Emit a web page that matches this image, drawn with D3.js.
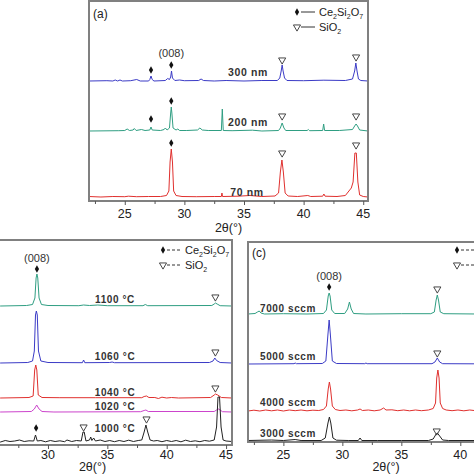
<!DOCTYPE html>
<html>
<head>
<meta charset="utf-8">
<script src="https://cdn.jsdelivr.net/npm/d3@7"></script>
<style>
  body { margin: 0; background: #fff; }
  svg { display: block; font-family: "Liberation Sans", Arial, sans-serif; }
</style>
</head>
<body>
<svg id="chart" width="474" height="474"></svg>
<script>
// ---- data: [2theta, intensity above own baseline] ----
// panel (a) film thickness
const aNames = ["300 nm", "200 nm", "70 nm"];
const aOffsets = [120, 70, 4];
const a300 = [[22,0],[23.5,0.3],[24,0],[24.2,1],[24.4,0],[24.6,1],[24.8,0],[25.5,0.3],[26,1.5],[26.3,0],[27,0],[27.1,1.5],[27.2,5],[27.3,1.5],[27.45,0],[28.4,0.5],[28.6,2.5],[28.75,1.5],[28.85,4],[28.92,10],[29,3],[29.2,0.5],[29.6,1],[30,0.3],[31.2,0.5],[31.4,2],[31.6,0.5],[32.5,0],[33.5,0.5],[35,0],[36.5,0.5],[37.8,0.5],[38,3],[38.12,10],[38.2,16],[38.28,10],[38.4,3],[38.6,0.5],[40,0.3],[41.7,0.8],[43.5,0.5],[44.1,2],[44.28,10],[44.38,18],[44.48,10],[44.6,2],[44.8,0.5],[45.4,0]];
const a200 = [[22,0],[24.5,0.3],[25,0.5],[25.2,2],[25.4,0.5],[25.7,1],[25.8,2.5],[25.95,0.5],[26.4,1.5],[26.7,0.5],[27.1,1],[27.2,4],[27.3,1],[28,0.5],[28.3,1.5],[28.4,3],[28.55,1],[28.75,3],[28.85,18],[28.9,24],[28.95,18],[29.05,3],[29.3,1],[29.45,2],[29.6,0.5],[30.2,0.5],[31.1,1],[31.3,3],[31.5,1],[32,0.5],[33.1,0.5],[33.18,22],[33.26,0.5],[34,0.3],[35.7,0.8],[36.5,0],[37.9,0.5],[38.05,3],[38.2,8],[38.35,3],[38.5,0.5],[40.3,0.5],[40.4,1.5],[40.5,0.3],[41.6,0.5],[41.68,7],[41.76,0.5],[43,0.5],[44.1,1.5],[44.28,5],[44.4,7],[44.52,5],[44.7,1],[45.4,0]];
const a70 = [[22,0.5],[23,0],[24,0.5],[25,0.3],[25.3,0.8],[26,0.3],[27,0.5],[28,0.5],[28.5,1.5],[28.7,6],[28.8,35],[28.9,48],[29,35],[29.1,6],[29.3,1.5],[29.8,0.5],[31,0.3],[32.5,0.5],[33.1,0.5],[33.15,4],[33.2,0.5],[34.5,0.8],[35.5,1.5],[36.5,0.5],[37.6,1],[37.9,4],[38.05,25],[38.18,37],[38.3,25],[38.45,4],[38.7,1],[39.5,0.5],[40.35,1.5],[40.6,0.5],[41.6,0.8],[41.7,3],[41.8,0.8],[42.8,0.5],[43.5,1.5],[43.8,6],[44,9],[44.15,15],[44.3,44],[44.42,44],[44.55,15],[44.7,2],[45,0.5],[45.4,0]];

// panel (b) annealing temperature
const bNames = ["1100 °C", "1060 °C", "1040 °C", "1020 °C", "1000 °C"];
const bOffsets = [139, 82, 47, 33, 3];
const b1100 = [[22,0],[26,0],[28.2,0.5],[28.7,1.5],[28.9,8],[29,28],[29.07,32],[29.14,28],[29.25,8],[29.45,1.5],[30,0.5],[32.6,0.3],[33,1],[33.5,0.5],[34.2,1],[35,0.3],[38,0.3],[38.2,1.5],[38.4,0.3],[43.8,0.5],[44,2],[44.1,3],[44.25,2],[44.5,0.3],[45.5,0]];
const b1060 = [[22,0],[26,0],[28.3,0.5],[28.7,2],[28.85,12],[28.95,48],[29.02,52],[29.1,48],[29.2,12],[29.4,2],[30,0.5],[32.9,0.3],[33,3],[33.1,0.3],[35.2,0.5],[35.4,1],[35.6,0.3],[43.6,0.5],[43.9,2],[44.05,5],[44.2,2.5],[44.5,0.5],[45.5,0]];
const b1040 = [[22,0],[26,0],[28.4,0.5],[28.75,2],[28.88,28],[28.97,33],[29.06,28],[29.18,3],[29.5,0.5],[31,0.3],[34,0.3],[37.9,0.3],[38.1,1.5],[38.3,2],[38.5,0.5],[39,0.5],[39.3,-0.5],[39.6,0.8],[40,0],[40.4,0.5],[41,0],[43.7,0.5],[44,3],[44.1,4],[44.3,3],[44.6,0.5],[45.5,0]];
const b1020 = [[22,0],[26,0],[28.6,0.5],[28.85,3],[29.05,7],[29.25,3],[29.5,0.5],[30.5,0],[37.8,0.3],[38.1,1.5],[38.25,2],[38.45,0.5],[44,0.5],[44.2,2],[44.35,3],[44.5,2],[44.7,0.3],[45.5,0]];
const b1000 = [[22,0],[22.4,1],[22.8,0],[23.2,1.5],[23.6,0.5],[24,1],[24.4,0],[24.8,1.5],[25.2,0.5],[25.6,1.2],[26,0],[26.4,1.5],[26.8,0.5],[27.2,1],[27.6,2],[28,0.5],[28.4,1.2],[28.8,1],[28.95,7],[29.1,1],[29.4,1.5],[29.8,0.2],[30.2,1.5],[30.6,0.5],[31,1.2],[31.4,0.3],[31.6,2],[32,0.5],[32.4,1.5],[32.8,1],[32.95,10],[33.05,10],[33.2,1],[33.5,2],[33.6,5],[33.7,1.5],[33.85,4],[34,1],[34.4,2],[34.8,0.5],[35.2,1.5],[35.6,0.3],[36,1.5],[36.4,0.5],[36.8,1.8],[37.2,0.5],[37.6,1.5],[37.9,2],[38.1,10],[38.25,17],[38.4,10],[38.6,2],[38.9,1],[39.2,1.5],[39.6,0.3],[40,1.5],[40.4,0.5],[40.8,1.5],[41.2,0.2],[41.6,1.8],[42,0.5],[42.4,1.2],[42.8,0.3],[43.2,1.5],[43.6,0.8],[44,2],[44.2,15],[44.32,45],[44.45,45],[44.58,15],[44.75,2],[45,1],[45.5,0.5]];

// panel (c) gas flow
const cNames = ["7000 sccm", "5000 sccm", "4000 sccm", "3000 sccm"];
const cOffsets = [128, 78, 31, 1];
const c7000 = [[22,0],[22.6,0.5],[22.8,2],[22.95,3],[23.1,1],[23.4,0],[25,0.3],[27,0],[28.4,0.5],[28.65,4],[28.8,18],[28.88,21],[28.96,18],[29.1,4],[29.35,0.5],[30.2,0.5],[30.45,5],[30.6,12],[30.75,5],[30.95,0.5],[32,0],[35,0.3],[37.5,0.3],[37.8,2],[37.95,14],[38.05,19],[38.15,14],[38.3,2],[38.6,0.3],[41.5,0],[45.4,0]];
const c5000 = [[22,0],[25.9,0.3],[26,1],[26.1,0.3],[28.3,0.5],[28.6,3],[28.78,30],[28.88,44],[28.98,30],[29.15,3],[29.5,0.5],[31.9,0.3],[32,1],[32.1,0.3],[37.6,0.3],[37.85,2],[38.05,6],[38.25,2],[38.5,0.3],[45.4,0]];
const c4000 = [[22,0],[22.5,0.8],[23,0],[23.5,1],[24,0.2],[24.5,1],[25,0],[25.5,1],[26,0.3],[26.5,1],[27,0.2],[27.5,0.8],[28,0.5],[28.4,1.5],[28.65,5],[28.8,22],[28.9,29],[29,22],[29.15,5],[29.4,1.5],[29.8,0.5],[30.3,1],[30.8,0.2],[31.3,1],[31.5,2],[31.7,0.5],[32.2,1],[32.7,0.2],[33.2,1],[33.5,3],[33.7,1],[34.2,1.2],[34.7,0.3],[35.2,1],[35.7,0.2],[36.2,1],[36.7,0.3],[37.3,1],[37.7,2.5],[37.9,8],[38,33],[38.1,41],[38.2,33],[38.3,8],[38.5,2.5],[38.8,1],[39.3,0.3],[39.8,1],[40.3,0.2],[40.8,1],[41.3,0.3],[45.4,0]];
const c3000 = [[22,0.5],[24,1],[25,0.5],[26,1.5],[26.5,0.5],[28.2,0.5],[28.55,3],[28.78,18],[28.9,24],[29.02,18],[29.2,3],[29.5,0.8],[30.5,0.5],[31.35,0.5],[31.5,3],[31.65,0.5],[33,0.5],[35,0.5],[37.3,0.5],[37.7,2],[37.95,7],[38.05,8],[38.25,5],[38.5,1],[39,0.5],[41.5,0.5],[45.4,0.5]];

// phase markers [2theta, absolute intensity]
const aDiamonds = [[27.2,131],[28.9,136],[27.2,82],[28.9,100],[28.9,58]];
const aTriangles = [[38.2,141],[44.4,144],[38.2,85],[44.4,85],[38.2,48],[44.4,56]];
const bDiamonds = [[29.07,176],[29.0,17]];
const bTriangles = [[44.1,148],[44.1,93],[44.1,57],[33.0,18],[38.3,26]];
const cDiamonds = [[28.88,155]];
const cTriangles = [[38.05,153],[38.05,89],[38.0,11]];
const peakLabel = "(008)";
const aPeak008 = [28.9, 148], bPeak008 = [29.07, 187], cPeak008 = [28.88, 166];

const majorTicks = [25, 30, 35, 40, 45];
const minorTicks = [22.5, 27.5, 32.5, 37.5, 42.5];

// ---- layout ----
const W = 474;
const svg = d3.select("#chart");
const colors = { blue: "#3b3bc6", green: "#2f9e82", red: "#e0302e", magenta: "#cc44cc", black: "#222" };

const panels = [
  { id: "a", x0: 89, x1: 368, y0: 1, y1: 201, domain: [22, 45.4],
    series: [a300, a200, a70], names: aNames, offsets: aOffsets,
    colors: [colors.blue, colors.green, colors.red],
    labels: [[248, 72], [248, 122], [247, 192]], labelSize: 10.5,
    diamonds: aDiamonds, triangles: aTriangles, peak: aPeak008,
    legend: { x: 297, y: 12, dash: false, text: true }, title: "(a)", titlePos: [93, 14],
    tickY: 214, axisTitleY: 228 },
  { id: "b", x0: -47, x1: 232, y0: 240, y1: 445, domain: [22, 45.5],
    series: [b1100, b1060, b1040, b1020, b1000], names: bNames, offsets: bOffsets,
    colors: [colors.green, colors.blue, colors.red, colors.magenta, colors.black],
    labels: [[115, 299], [115, 356], [115, 392], [115, 406], [115, 428]], labelSize: 10,
    diamonds: bDiamonds, triangles: bTriangles, peak: bPeak008,
    legend: { x: 163, y: 250, dash: true, text: true }, title: null,
    tickY: 455, axisTitleY: 467 },
  { id: "c", x0: 248, x1: 524, y0: 242, y1: 442, domain: [22, 45.4],
    series: [c7000, c5000, c4000, c3000], names: cNames, offsets: cOffsets,
    colors: [colors.green, colors.blue, colors.red, colors.black],
    labels: [[288, 308], [288, 356], [288, 402], [288, 433]], labelSize: 10,
    diamonds: cDiamonds, triangles: cTriangles, peak: cPeak008,
    legend: { x: 457, y: 250, dash: true, text: false }, title: "(c)", titlePos: [252, 253],
    tickY: 455, axisTitleY: 467 }
];

const diamondPath = d3.symbol().type(d3.symbolDiamond).size(16);
const triPath = d3.symbol().type(d3.symbolTriangle).size(22);

panels.forEach(p => {
  const x = d3.scaleLinear().domain(p.domain).range([p.x0, p.x1]);
  const y = d3.scaleLinear().domain([0, p.y1 - p.y0]).range([p.y1, p.y0]);
  const g = svg.append("g");

  g.append("clipPath").attr("id", "clip-" + p.id)
    .append("rect").attr("x", p.x0).attr("y", p.y0)
    .attr("width", p.x1 - p.x0).attr("height", p.y1 - p.y0);

  // curves
  const plot = g.append("g").attr("clip-path", `url(#clip-${p.id})`);
  p.series.forEach((s, i) => {
    const line = d3.line().x(d => x(d[0])).y(d => y(d[1] + p.offsets[i]));
    plot.append("path").datum(s)
      .attr("d", line)
      .attr("fill", "none")
      .attr("stroke", p.colors[i])
      .attr("stroke-width", 1)
      .attr("stroke-linejoin", "round");
  });

  // series labels
  p.names.forEach((n, i) => {
    g.append("text")
      .attr("x", p.labels[i][0]).attr("y", p.labels[i][1])
      .attr("text-anchor", "middle").attr("dominant-baseline", "central")
      .attr("font-size", p.labelSize).attr("font-weight", "bold")
      .attr("letter-spacing", 0.6).attr("fill", "#333")
      .text(n);
  });

  // markers
  g.selectAll(".dia").data(p.diamonds).enter().append("path")
    .attr("transform", d => `translate(${x(d[0])},${y(d[1])})`)
    .attr("d", diamondPath).attr("fill", "#111");
  g.selectAll(".tri").data(p.triangles).enter().append("path")
    .attr("transform", d => `translate(${x(d[0])},${y(d[1])}) rotate(180)`)
    .attr("d", triPath).attr("fill", "none").attr("stroke", "#333").attr("stroke-width", 0.9);

  g.append("text")
    .attr("x", x(p.peak[0])).attr("y", y(p.peak[1]))
    .attr("text-anchor", "middle").attr("dominant-baseline", "central")
    .attr("font-size", 11).attr("fill", "#333")
    .text(peakLabel);

  // frame
  g.append("rect")
    .attr("x", p.x0).attr("y", p.y0)
    .attr("width", p.x1 - p.x0).attr("height", p.y1 - p.y0)
    .attr("fill", "none").attr("stroke", "#808080").attr("stroke-width", 2);

  // axis ticks
  const major = g.append("g").attr("transform", `translate(0,${p.y1})`)
    .call(d3.axisBottom(x).tickValues(majorTicks).tickSize(4).tickFormat(""));
  const minor = g.append("g").attr("transform", `translate(0,${p.y1})`)
    .call(d3.axisBottom(x).tickValues(minorTicks).tickSize(3).tickFormat(""));
  [major, minor].forEach(a => {
    a.select(".domain").remove();
    a.selectAll("line").attr("stroke", "#555");
  });
  // only labels that fall inside the picture
  g.selectAll(".tlab").data(majorTicks.filter(d => x(d) > 8 && x(d) < W - 8)).enter().append("text")
    .attr("x", d => x(d)).attr("y", p.tickY)
    .attr("text-anchor", "middle").attr("dominant-baseline", "central")
    .attr("font-size", 12.5).attr("fill", "#222")
    .text(d => d);

  g.append("text")
    .attr("x", x((p.domain[0] + p.domain[1]) / 2)).attr("y", p.axisTitleY)
    .attr("text-anchor", "middle").attr("dominant-baseline", "central")
    .attr("font-size", 12.5).attr("fill", "#222")
    .text("2θ(°)");

  if (p.title) {
    g.append("text").attr("x", p.titlePos[0]).attr("y", p.titlePos[1])
      .attr("dominant-baseline", "central")
      .attr("font-size", 12).attr("fill", "#222").text(p.title);
  }

  // legend
  const lg = g.append("g");
  const rows = [
    { sym: "dia", parts: [["Ce", 0], ["2", 1], ["Si", 0], ["2", 1], ["O", 0], ["7", 1]] },
    { sym: "tri", parts: [["SiO", 0], ["2", 1]] }
  ];
  rows.forEach((r, k) => {
    const ly = p.legend.y + k * 15;
    if (r.sym === "dia") {
      lg.append("path").attr("transform", `translate(${p.legend.x},${ly})`)
        .attr("d", diamondPath).attr("fill", "#111");
    } else {
      lg.append("path").attr("transform", `translate(${p.legend.x},${ly}) rotate(180)`)
        .attr("d", triPath).attr("fill", "none").attr("stroke", "#333").attr("stroke-width", 0.9);
    }
    lg.append("line")
      .attr("x1", p.legend.x + 4).attr("x2", p.legend.x + 18)
      .attr("y1", ly).attr("y2", ly)
      .attr("stroke", "#333").attr("stroke-width", 1)
      .attr("stroke-dasharray", p.legend.dash ? "3,2" : null);
    if (!p.legend.text) return;
    const t = lg.append("text")
      .attr("x", p.legend.x + 22).attr("y", ly + 4)
      .attr("font-size", 11).attr("fill", "#222");
    let shifted = false;
    r.parts.forEach(([s, sub]) => {
      const dy = sub && !shifted ? 2.5 : (!sub && shifted ? -2.5 : 0);
      shifted = !!sub;
      t.append("tspan")
        .attr("font-size", sub ? 7 : 11)
        .attr("dy", dy)
        .text(s);
    });
  });
});
</script>
</body>
</html>
